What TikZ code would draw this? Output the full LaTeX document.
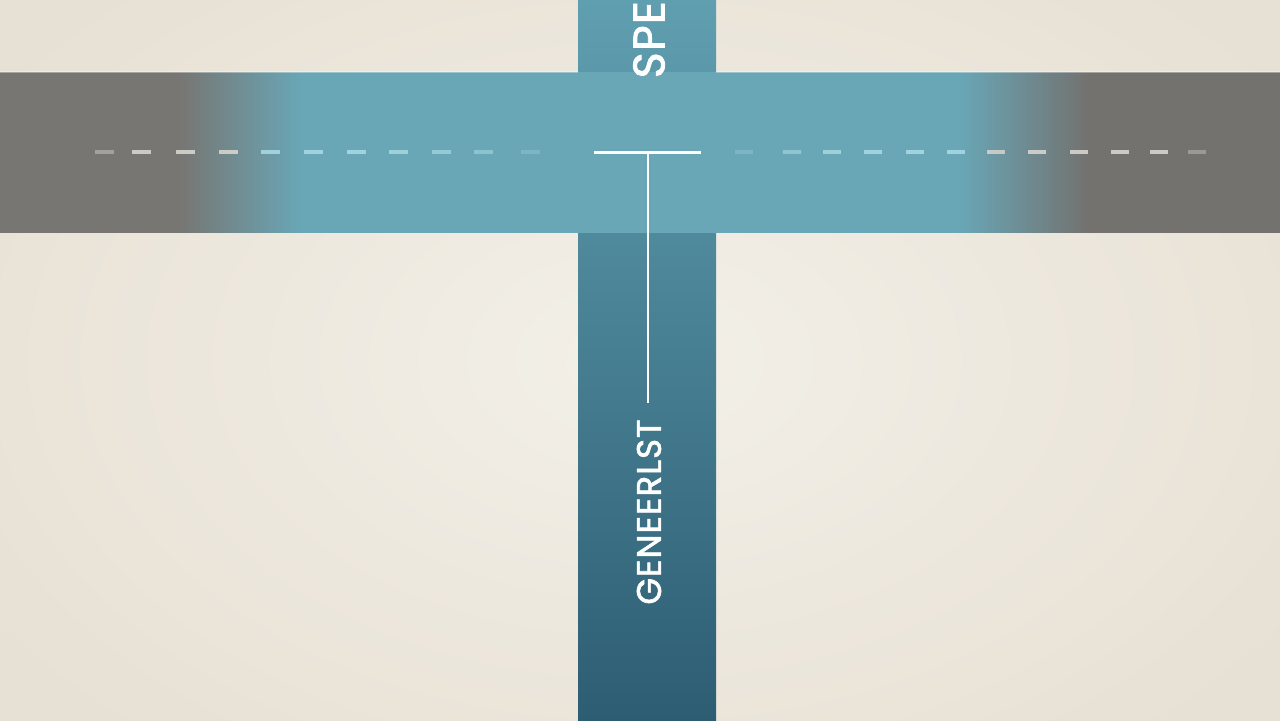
\documentclass[tikz,border=0pt]{standalone}
\usepackage{fontspec}
\usetikzlibrary{positioning}
\newfontfamily\roadfont[LetterSpace=3,FakeBold=1.8]{Poppins}

\definecolor{paper}{HTML}{F3F0E8}
\definecolor{paperdark}{HTML}{E7E0D4}
\definecolor{roadgray}{HTML}{777672}
\definecolor{roadgrayR}{HTML}{73726F}
\definecolor{roadteal}{HTML}{69A6B6}
\definecolor{laneteal}{HTML}{609FB0}
\definecolor{lanemid}{HTML}{4D8CA0}
\definecolor{lanedeep}{HTML}{2D5D73}
\definecolor{dashgray}{HTML}{D6D4CE}
\definecolor{dashteal}{HTML}{A9DCE6}

% band width maps to 25bp..75bp
\pgfdeclarehorizontalshading{roadband}{100bp}{color(0bp)=(roadgray); color(32bp)=(roadgray);
  color(36.75bp)=(roadteal); color(62.5bp)=(roadteal); color(67.5bp)=(roadgrayR); color(100bp)=(roadgrayR)}

\begin{document}
\begin{tikzpicture}
  [x=0.1mm,y=-0.1mm,
   mark line/.style={white,line width=0.85pt},
   dash mark/.style={line width=1.2pt},
   road label/.style={text=white,inner sep=0pt,rotate=90,font=\roadfont}]
  \useasboundingbox (0,0) rectangle (1280,720);
  \clip (0,0) rectangle (1280,720);

  % paper
  \shade[inner color=paper,outer color=paperdark] (-150,-150) rectangle (1430,870);

  % vertical road
  \shade[top color=laneteal,middle color=lanemid,bottom color=lanedeep] (578,0) rectangle (716,720);

  % horizontal road
  \shade[shading=roadband] (0,72) rectangle (1280,232);
  \draw[white,opacity=0.35,line width=0.4pt] (0,72) -- (578,72) (716,72) -- (1280,72);

  % lane dashes
  \foreach \x/\c/\o in {95/dashgray/0.45,132/dashgray/0.9,176/dashgray/0.9,219/dashgray/0.9,
                        261/dashteal/0.85,304/dashteal/0.85,347/dashteal/0.85,389/dashteal/0.8,
                        432/dashteal/0.7,474/dashteal/0.55,521/dashteal/0.3}
    \draw[dash mark,\c,opacity=\o] (\x,152) -- ++(19,0);
  \foreach \x/\c/\o in {735/dashteal/0.3,783/dashteal/0.6,823/dashteal/0.8,864/dashteal/0.85,
                        906/dashteal/0.85,947/dashteal/0.85,987/dashgray/0.85,1028/dashgray/0.9,
                        1070/dashgray/0.9,1111/dashgray/0.9,1150/dashgray/0.9,1188/dashgray/0.4}
    \draw[dash mark,\c,opacity=\o] (\x,152) -- ++(18,0);

  % stop mark
  \coordinate (stopL) at (594,152);
  \coordinate (stopR) at (701,152);
  \coordinate (stopM) at (648,152);
  \coordinate (stopE) at (648,403);
  \draw[mark line] (stopL) -- (stopR);
  \draw[mark line] (stopM) -- (stopE);

  % labels
  \node[road label,font=\roadfont\fontsize{12.6}{14}\selectfont,anchor=west] (spe) at (649,79) {SPE};
  \node[road label,font=\roadfont\fontsize{9.7}{11}\selectfont] (gen) at (649,512) {GENEERLST};
\end{tikzpicture}
\end{document}
